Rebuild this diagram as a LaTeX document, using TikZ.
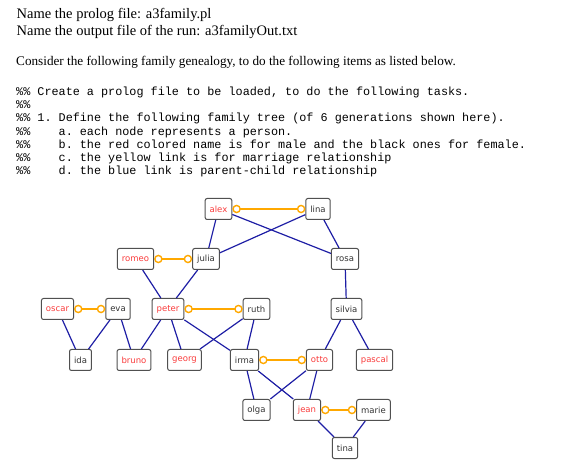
\documentclass[tikz,border=0pt]{standalone}
\usepackage{fontspec}
\setmainfont{Liberation Serif}
\setmonofont{Liberation Mono}
\newfontfamily\personfont{DejaVu Sans}
\usetikzlibrary{arrows.meta}

\definecolor{malered}{RGB}{250,60,60}
\definecolor{linkblue}{RGB}{30,30,165}
\definecolor{marryorange}{RGB}{255,168,0}
\definecolor{boxgray}{RGB}{80,80,80}

\tikzset{
  person/.style={draw=boxgray, line width=1pt, rounded corners=2pt, fill=white,
    minimum height=21pt, inner xsep=4.5pt, text=black!80,
    font=\personfont\fontsize{8.5}{10}\selectfont},
  male/.style={person, text=malered},
  female/.style={person},
  parentof/.style={draw=linkblue, line width=1.2pt},
  marriedto/.style={draw=marryorange, line width=1.4pt,
    {Circle[open,length=8.5pt,width=8.5pt]}-{Circle[open,length=8.5pt,width=8.5pt]}},
  codeline/.style={anchor=base west, inner sep=0pt, font=\ttfamily\fontsize{11.8}{13}\selectfont},
}

\begin{document}
\begin{tikzpicture}[x=1pt, y=-1pt]

  %% ==== heading text ====
  \node[anchor=base west, inner sep=0pt, font=\fontsize{14.5}{16}\selectfont] (title1) at (16.5,19) {Name the prolog file: a3family.pl};
  \node[anchor=base west, inner sep=0pt, font=\fontsize{14.5}{16}\selectfont] (title2) at (16.5,35.5) {Name the output file of the run: a3familyOut.txt};
  \node[anchor=base west, inner sep=0pt, font=\fontsize{13.2}{15}\selectfont] (intro) at (16,65.5) {Consider the following family genealogy, to do the following items as listed below.};

  \node[codeline] (code1) at (16,95.5)  {\%\%\ Create a prolog file to be loaded, to do the following tasks.};
  \node[codeline] (code2) at (16,108.7) {\%\%};
  \node[codeline] (code3) at (16,121.9) {\%\%\ 1. Define the following family tree (of 6 generations shown here).};
  \node[codeline] (code4) at (16,135.1) {\%\%\ \ \ \ a. each node represents a person.};
  \node[codeline] (code5) at (16,148.3) {\%\%\ \ \ \ b. the red colored name is for male and the black ones for female.};
  \node[codeline] (code6) at (16,161.5) {\%\%\ \ \ \ c. the yellow link is for marriage relationship};
  \node[codeline] (code7) at (16,174.7) {\%\%\ \ \ \ d. the blue link is parent-child relationship};

  %% ==== persons (row by row) ====
  \node[male]   (alex)   at (218.5,209) {alex};
  \node[female] (lina)   at (318,209)   {lina};

  \node[male]   (romeo)  at (135.5,259) {romeo};
  \node[female] (julia)  at (206,259)   {julia};
  \node[female] (rosa)   at (345,259)   {rosa};

  \node[male]   (oscar)  at (57.5,309)  {oscar};
  \node[female] (eva)    at (118,309)   {eva};
  \node[male]   (peter)  at (168,309)   {peter};
  \node[female] (ruth)   at (256.5,309) {ruth};
  \node[female] (silvia) at (346.5,309) {silvia};

  \node[female] (ida)    at (80.5,360)  {ida};
  \node[male]   (bruno)  at (134,360)   {bruno};
  \node[male]   (georg)  at (184.5,360) {georg};
  \node[female] (irma)   at (244.5,360) {irma};
  \node[male]   (otto)   at (319.5,360) {otto};
  \node[male]   (pascal) at (374.5,360) {pascal};

  \node[female] (olga)   at (256.5,410) {olga};
  \node[male]   (jean)   at (307,410)   {jean};
  \node[female] (marie)  at (373.5,410) {marie};

  \node[female] (tina)   at (345,448)   {tina};

  %% ==== parent-child links (blue) ====
  \draw[parentof] (alex) -- (julia);
  \draw[parentof] (alex) -- (rosa);
  \draw[parentof] (lina) -- (julia);
  \draw[parentof] (lina) -- (rosa);
  \draw[parentof] (romeo) -- (peter);
  \draw[parentof] (julia) -- (peter);
  \draw[parentof] (rosa) -- (silvia);
  \draw[parentof] (oscar) -- (ida);
  \draw[parentof] (eva) -- (ida);
  \draw[parentof] (eva) -- (bruno);
  \draw[parentof] (peter) -- (bruno);
  \draw[parentof] (peter) -- (georg);
  \draw[parentof] (peter) -- (irma);
  \draw[parentof] (ruth) -- (georg);
  \draw[parentof] (ruth) -- (irma);
  \draw[parentof] (silvia) -- (otto);
  \draw[parentof] (silvia) -- (pascal);
  \draw[parentof] (irma) -- (olga);
  \draw[parentof] (irma) -- (jean);
  \draw[parentof] (otto) -- (olga);
  \draw[parentof] (otto) -- (jean);
  \draw[parentof] (jean) -- (tina);
  \draw[parentof] (marie) -- (tina);

  %% ==== marriage links (orange) ====
  \draw[marriedto] (alex) -- (lina);
  \draw[marriedto] (romeo) -- (julia);
  \draw[marriedto] (oscar) -- (eva);
  \draw[marriedto] (peter) -- (ruth);
  \draw[marriedto] (irma) -- (otto);
  \draw[marriedto] (jean) -- (marie);

  % fix the canvas to the reference size
  \pgfresetboundingbox
  \path[use as bounding box] (0,0) rectangle (563,465);
\end{tikzpicture}
\end{document}
